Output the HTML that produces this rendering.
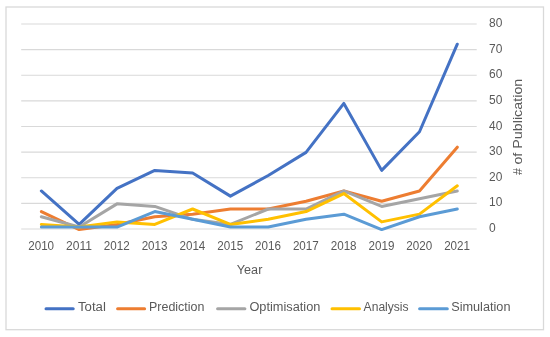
<!DOCTYPE html>
<html><head><meta charset="utf-8"><title>Publications per year</title>
<style>
html,body{margin:0;padding:0;background:#fff;}
svg{display:block;}
text{font-family:"Liberation Sans",Arial,sans-serif;fill:#595959;}
</style></head><body>
<svg width="550" height="337" viewBox="0 0 550 337">
<rect x="0" y="0" width="550" height="337" fill="#ffffff"/>
<rect x="6" y="7" width="537.5" height="322.7" fill="#ffffff" stroke="#D9D9D9" stroke-width="1.3"/>

<g stroke="#D9D9D9" stroke-width="1.2">
<line x1="21.2" y1="229.00" x2="476.7" y2="229.00"/>
<line x1="21.2" y1="203.38" x2="476.7" y2="203.38"/>
<line x1="21.2" y1="177.75" x2="476.7" y2="177.75"/>
<line x1="21.2" y1="152.12" x2="476.7" y2="152.12"/>
<line x1="21.2" y1="126.50" x2="476.7" y2="126.50"/>
<line x1="21.2" y1="100.88" x2="476.7" y2="100.88"/>
<line x1="21.2" y1="75.25" x2="476.7" y2="75.25"/>
<line x1="21.2" y1="49.62" x2="476.7" y2="49.62"/>
<line x1="21.2" y1="24.00" x2="476.7" y2="24.00"/>
</g>
<g fill="none" stroke-width="3" stroke-linecap="round" stroke-linejoin="round">
<polyline stroke="#4472C4" points="41.36,190.97 79.17,224.45 116.98,188.40 154.79,170.38 192.61,172.95 230.42,196.12 268.23,175.52 306.04,152.35 343.86,103.42 381.67,170.38 419.48,131.75 457.29,44.20"/>
<polyline stroke="#ED7D31" points="41.36,211.57 79.17,229.60 116.98,224.45 154.79,216.72 192.61,214.15 230.42,209.00 268.23,209.00 306.04,201.28 343.86,190.97 381.67,201.28 419.48,190.97 457.29,147.20"/>
<polyline stroke="#A5A5A5" points="41.36,216.72 79.17,227.03 116.98,203.85 154.79,206.42 192.61,219.30 230.42,224.45 268.23,209.00 306.04,209.00 343.86,190.97 381.67,206.42 419.48,198.70 457.29,190.97"/>
<polyline stroke="#FFC000" points="41.36,224.45 79.17,227.03 116.98,221.88 154.79,224.45 192.61,209.00 230.42,224.45 268.23,219.30 306.04,211.57 343.86,193.55 381.67,221.88 419.48,214.15 457.29,185.82"/>
<polyline stroke="#5B9BD5" points="41.36,227.03 79.17,227.03 116.98,227.03 154.79,211.57 192.61,219.30 230.42,227.03 268.23,227.03 306.04,219.30 343.86,214.15 381.67,229.60 419.48,216.72 457.29,209.00"/>
</g>
<g font-size="12" text-anchor="middle">
<text x="41.16" y="250.0" textLength="25.9" lengthAdjust="spacingAndGlyphs">2010</text>
<text x="78.97" y="250.0" textLength="25.9" lengthAdjust="spacingAndGlyphs">2011</text>
<text x="116.78" y="250.0" textLength="25.9" lengthAdjust="spacingAndGlyphs">2012</text>
<text x="154.59" y="250.0" textLength="25.9" lengthAdjust="spacingAndGlyphs">2013</text>
<text x="192.41" y="250.0" textLength="25.9" lengthAdjust="spacingAndGlyphs">2014</text>
<text x="230.22" y="250.0" textLength="25.9" lengthAdjust="spacingAndGlyphs">2015</text>
<text x="268.03" y="250.0" textLength="25.9" lengthAdjust="spacingAndGlyphs">2016</text>
<text x="305.84" y="250.0" textLength="25.9" lengthAdjust="spacingAndGlyphs">2017</text>
<text x="343.66" y="250.0" textLength="25.9" lengthAdjust="spacingAndGlyphs">2018</text>
<text x="381.47" y="250.0" textLength="25.9" lengthAdjust="spacingAndGlyphs">2019</text>
<text x="419.28" y="250.0" textLength="25.9" lengthAdjust="spacingAndGlyphs">2020</text>
<text x="457.09" y="250.0" textLength="25.9" lengthAdjust="spacingAndGlyphs">2021</text>
</g>
<g font-size="12" text-anchor="start">
<text x="489.1" y="232.00" textLength="6.7" lengthAdjust="spacingAndGlyphs">0</text>
<text x="489.1" y="206.38" textLength="13.3" lengthAdjust="spacingAndGlyphs">10</text>
<text x="489.1" y="180.75" textLength="13.3" lengthAdjust="spacingAndGlyphs">20</text>
<text x="489.1" y="155.12" textLength="13.3" lengthAdjust="spacingAndGlyphs">30</text>
<text x="489.1" y="129.50" textLength="13.3" lengthAdjust="spacingAndGlyphs">40</text>
<text x="489.1" y="103.88" textLength="13.3" lengthAdjust="spacingAndGlyphs">50</text>
<text x="489.1" y="78.25" textLength="13.3" lengthAdjust="spacingAndGlyphs">60</text>
<text x="489.1" y="52.62" textLength="13.3" lengthAdjust="spacingAndGlyphs">70</text>
<text x="489.1" y="27.00" textLength="13.3" lengthAdjust="spacingAndGlyphs">80</text>
</g>
<text x="249.6" y="273.7" font-size="12.5" text-anchor="middle" textLength="25.5" lengthAdjust="spacingAndGlyphs">Year</text>
<text transform="translate(521.5,175) rotate(-90)" font-size="12.5"><tspan x="0" textLength="6.9" lengthAdjust="spacingAndGlyphs">#</tspan> <tspan x="10.5" textLength="11.8" lengthAdjust="spacingAndGlyphs">of</tspan> <tspan x="26.3" textLength="70" lengthAdjust="spacingAndGlyphs">Publication</tspan></text>
<line x1="46.0" y1="308.8" x2="73.2" y2="308.8" stroke="#4472C4" stroke-width="3" stroke-linecap="round"/>
<text x="78.0" y="311.4" font-size="12.5" textLength="27.9" lengthAdjust="spacingAndGlyphs">Total</text>
<line x1="117.6" y1="308.8" x2="144.6" y2="308.8" stroke="#ED7D31" stroke-width="3" stroke-linecap="round"/>
<text x="149.0" y="311.4" font-size="12.5" textLength="55.4" lengthAdjust="spacingAndGlyphs">Prediction</text>
<line x1="217.6" y1="308.8" x2="244.9" y2="308.8" stroke="#A5A5A5" stroke-width="3" stroke-linecap="round"/>
<text x="249.4" y="311.4" font-size="12.5" textLength="71.0" lengthAdjust="spacingAndGlyphs">Optimisation</text>
<line x1="332.0" y1="308.8" x2="359.5" y2="308.8" stroke="#FFC000" stroke-width="3" stroke-linecap="round"/>
<text x="363.6" y="311.4" font-size="12.5" textLength="45.0" lengthAdjust="spacingAndGlyphs">Analysis</text>
<line x1="419.6" y1="308.8" x2="447.3" y2="308.8" stroke="#5B9BD5" stroke-width="3" stroke-linecap="round"/>
<text x="451.2" y="311.4" font-size="12.5" textLength="59.3" lengthAdjust="spacingAndGlyphs">Simulation</text>
</svg></body></html>
